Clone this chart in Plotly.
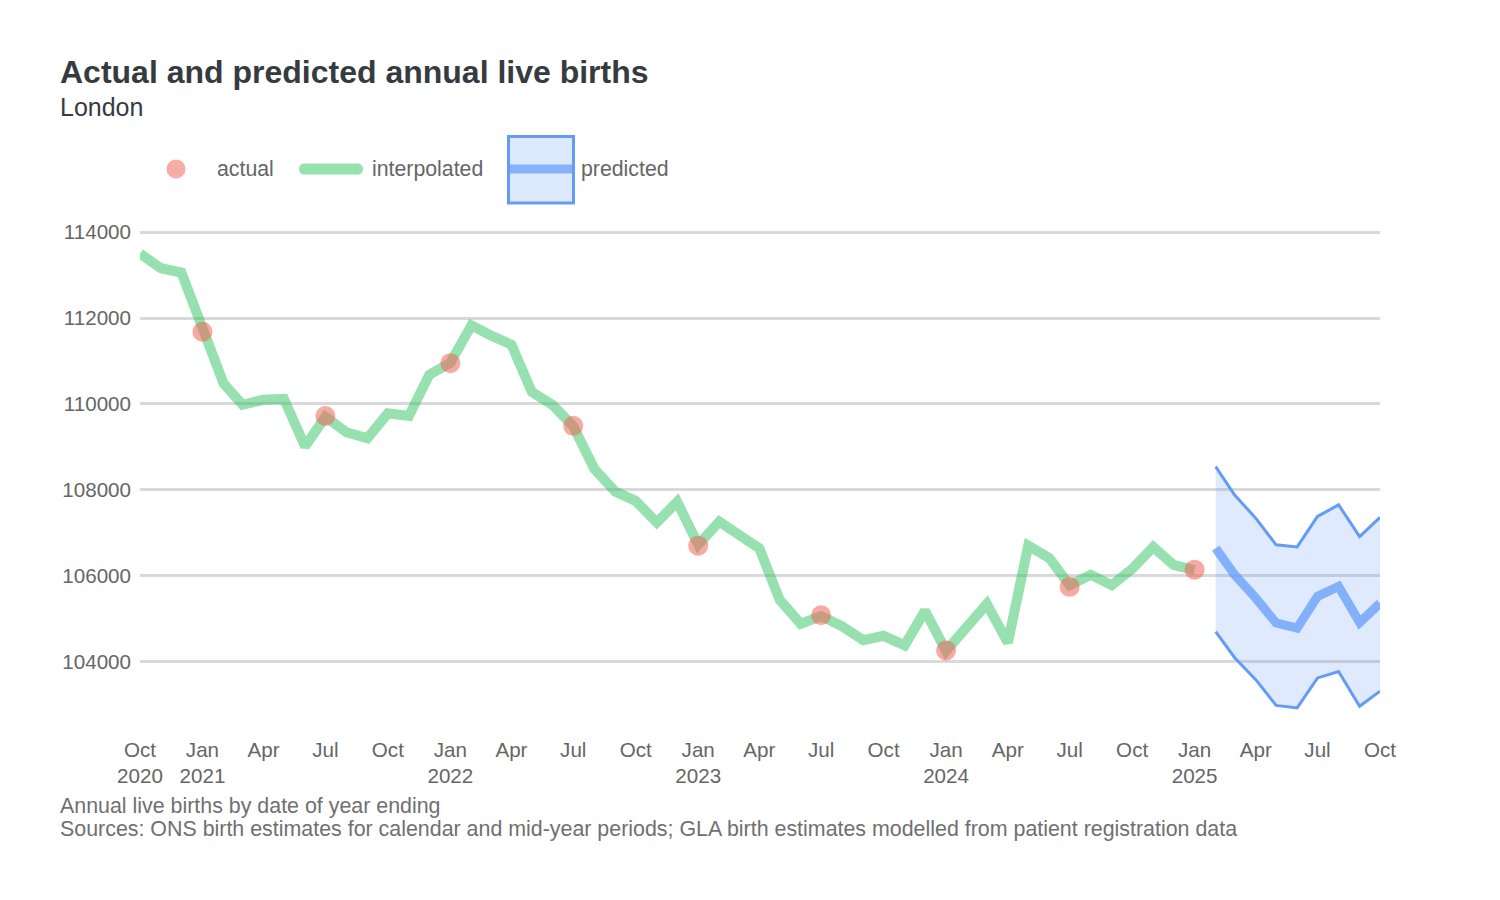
import plotly.graph_objects as go

# ---------------- data ----------------
interp_months = [
    "2020-10-01", "2020-11-01", "2020-12-01",
    "2021-01-01", "2021-02-01", "2021-03-01", "2021-04-01", "2021-05-01", "2021-06-01",
    "2021-07-01", "2021-08-01", "2021-09-01", "2021-10-01", "2021-11-01", "2021-12-01",
    "2022-01-01", "2022-02-01", "2022-03-01", "2022-04-01", "2022-05-01", "2022-06-01",
    "2022-07-01", "2022-08-01", "2022-09-01", "2022-10-01", "2022-11-01", "2022-12-01",
    "2023-01-01", "2023-02-01", "2023-03-01", "2023-04-01", "2023-05-01", "2023-06-01",
    "2023-07-01", "2023-08-01", "2023-09-01", "2023-10-01", "2023-11-01", "2023-12-01",
    "2024-01-01", "2024-02-01", "2024-03-01", "2024-04-01", "2024-05-01", "2024-06-01",
    "2024-07-01", "2024-08-01", "2024-09-01", "2024-10-01", "2024-11-01", "2024-12-01",
    "2025-01-01",
]
interp_values = [
    113500, 113160, 113060,
    111700, 110480, 109980, 110100, 110120, 109010,
    109700, 109340, 109200, 109780, 109720, 110680,
    110960, 111830, 111600, 111380, 110280, 109970,
    109480, 108490, 107960, 107740, 107240, 107720,
    106720, 107260, 106960, 106640, 105440, 104880,
    105060, 104820, 104500, 104600, 104380, 105180,
    104250, 104820, 105340, 104440, 106700, 106410,
    105780, 106020, 105780, 106160, 106670, 106250,
    106130,
]

actual_months = ["2021-01-01", "2021-07-01", "2022-01-01", "2022-07-01", "2023-01-01",
                 "2023-07-01", "2024-01-01", "2024-07-01", "2025-01-01"]
actual_values = [111680, 109720, 110950, 109490, 106700, 105080, 104260, 105740, 106140]

pred_months = ["2025-02-01", "2025-03-01", "2025-04-01", "2025-05-01", "2025-06-01",
               "2025-07-01", "2025-08-01", "2025-09-01", "2025-10-01"]
pred_mean = [106640, 106020, 105480, 104900, 104780, 105520, 105750, 104910, 105360]
pred_upper = [108540, 107880, 107340, 106720, 106670, 107380, 107650, 106910, 107360]
pred_lower = [104700, 104090, 103580, 102980, 102920, 103620, 103770, 102960, 103310]

x_tickvals = ["2020-10-01", "2021-01-01", "2021-04-01", "2021-07-01", "2021-10-01",
              "2022-01-01", "2022-04-01", "2022-07-01", "2022-10-01",
              "2023-01-01", "2023-04-01", "2023-07-01", "2023-10-01",
              "2024-01-01", "2024-04-01", "2024-07-01", "2024-10-01",
              "2025-01-01", "2025-04-01", "2025-07-01", "2025-10-01"]
x_ticktext = ["Oct<br>2020", "Jan<br>2021", "Apr", "Jul", "Oct",
              "Jan<br>2022", "Apr", "Jul", "Oct",
              "Jan<br>2023", "Apr", "Jul", "Oct",
              "Jan<br>2024", "Apr", "Jul", "Oct",
              "Jan<br>2025", "Apr", "Jul", "Oct"]
y_tickvals = [104000, 106000, 108000, 110000, 112000, 114000]

legend_labels = ["actual", "interpolated", "predicted"]

# ---------------- styles ----------------
FONT = "Liberation Sans, Arial, sans-serif"
GREEN = "rgba(46,196,96,0.5)"
GREEN_SOLID = "rgb(150,226,172)"
SALMON = "rgba(240,100,90,0.55)"
SALMON_SOLID = "rgb(248,172,166)"
BLUE = "rgb(100,156,245)"
BLUE_MEAN = "rgba(100,156,250,0.75)"
BAND = "rgba(100,150,255,0.2)"
TEXT_GREY = "#666666"

W, H = 1500, 900
ML, MR, MT, MB = 140, 120, 215, 174
PW, PH = W - ML - MR, H - MT - MB


def px(x):
    return (x - ML) / PW


def py(y):
    return (H - MB - y) / PH


fig = go.Figure()

fig.add_trace(go.Scatter(
    x=pred_months, y=pred_upper, mode="lines",
    line=dict(color=BLUE, width=3), name="predicted (upper)", hoverinfo="skip",
))
fig.add_trace(go.Scatter(
    x=pred_months, y=pred_lower, mode="lines", fill="tonexty", fillcolor=BAND,
    line=dict(color=BLUE, width=3), name="predicted (lower)",
))
fig.add_trace(go.Scatter(
    x=pred_months, y=pred_mean, mode="lines",
    line=dict(color=BLUE_MEAN, width=9), name="predicted",
))
fig.add_trace(go.Scatter(
    x=interp_months, y=interp_values, mode="lines",
    line=dict(color=GREEN, width=10), name="interpolated",
))
fig.add_trace(go.Scatter(
    x=actual_months, y=actual_values, mode="markers",
    marker=dict(color=SALMON, size=20, line=dict(width=0)), name="actual",
))

# legend drawn as shapes/annotations (matches the reference's large symbols)
LY = 169
shapes = [
    dict(type="circle", xref="paper", yref="paper",
         x0=px(166.5), x1=px(185.5), y0=py(LY + 9.5), y1=py(LY - 9.5),
         fillcolor=SALMON_SOLID, line=dict(width=0)),
    dict(type="line", xref="paper", yref="paper",
         x0=px(304), x1=px(358), y0=py(LY), y1=py(LY),
         line=dict(color=GREEN_SOLID, width=11)),
    dict(type="circle", xref="paper", yref="paper",
         x0=px(299), x1=px(309), y0=py(LY + 5.5), y1=py(LY - 5.5),
         fillcolor=GREEN_SOLID, line=dict(width=0)),
    dict(type="circle", xref="paper", yref="paper",
         x0=px(353), x1=px(363), y0=py(LY + 5.5), y1=py(LY - 5.5),
         fillcolor=GREEN_SOLID, line=dict(width=0)),
    dict(type="rect", xref="paper", yref="paper",
         x0=px(508.5), x1=px(573.5), y0=py(203), y1=py(136.5),
         fillcolor="rgb(221,233,255)", line=dict(color="rgb(100,156,245)", width=3)),
    dict(type="line", xref="paper", yref="paper",
         x0=px(510), x1=px(572), y0=py(LY), y1=py(LY),
         line=dict(color="rgb(135,178,250)", width=9)),
]

annotations = [
    dict(text="<b>Actual and predicted annual live births</b>", xref="paper", yref="paper",
         x=px(58), y=py(72), xanchor="left", yanchor="middle",
         showarrow=False, font=dict(size=32, color="#363b40", family=FONT)),
    dict(text="London", xref="paper", yref="paper",
         x=px(58), y=py(107), xanchor="left", yanchor="middle",
         showarrow=False, font=dict(size=25, color="#363b40", family=FONT)),
    dict(text="Annual live births by date of year ending", xref="paper", yref="paper",
         x=px(58), y=py(805.5), xanchor="left", yanchor="middle",
         showarrow=False, font=dict(size=21.4, color="#707070", family=FONT)),
    dict(text="Sources: ONS birth estimates for calendar and mid-year periods; GLA birth estimates modelled from patient registration data",
         xref="paper", yref="paper",
         x=px(58), y=py(828.5), xanchor="left", yanchor="middle",
         showarrow=False, font=dict(size=21.4, color="#707070", family=FONT)),
]
for lbl, lx in zip(legend_labels, [215, 370, 579]):
    annotations.append(dict(
        text=lbl, xref="paper", yref="paper", x=px(lx), y=py(LY),
        xanchor="left", yanchor="middle", showarrow=False,
        font=dict(size=21.3, color=TEXT_GREY, family=FONT)))

fig.update_layout(
    width=W, height=H,
    paper_bgcolor="white", plot_bgcolor="white",
    margin=dict(l=ML, r=MR, t=MT, b=MB),
    font=dict(family=FONT, size=20.6, color=TEXT_GREY),
    showlegend=False,
    xaxis=dict(
        type="date", range=["2020-10-01", "2025-10-01"],
        tickvals=x_tickvals, ticktext=x_ticktext,
        showgrid=False, zeroline=False, showline=False, ticks="",
        tickfont=dict(size=20.6, color=TEXT_GREY),
        ticklabelstandoff=9,
    ),
    yaxis=dict(
        range=[102500, 114400],
        tickvals=y_tickvals, tickformat="d",
        showgrid=True, gridcolor="#d9d9d9", gridwidth=3,
        zeroline=False, showline=False, ticks="",
        tickfont=dict(size=20.6, color=TEXT_GREY),
        ticklabelstandoff=8,
    ),
    shapes=shapes,
    annotations=annotations,
)

fig.write_html("out.html")
